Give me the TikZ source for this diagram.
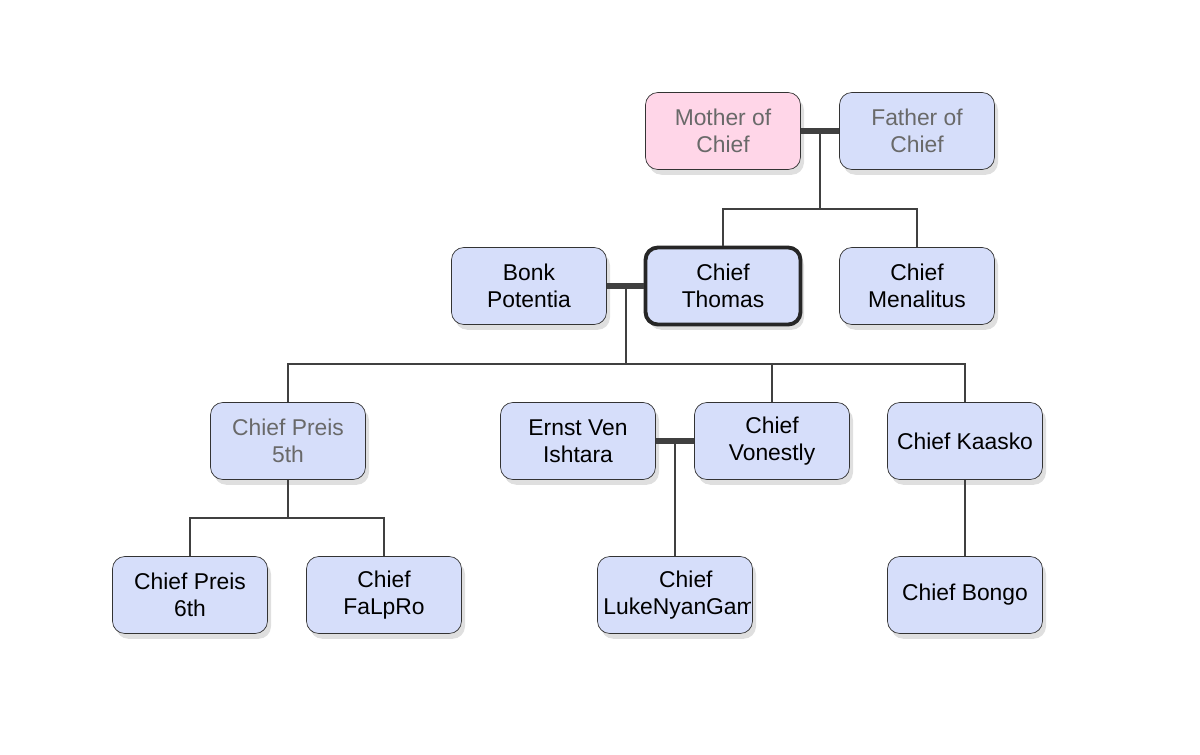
\documentclass[tikz,border=0pt]{standalone}
\usepackage{fontspec}
\setmainfont{Liberation Sans}
\usetikzlibrary{shadows,calc}
\definecolor{personblue}{RGB}{214,222,250}
\definecolor{personpink}{RGB}{255,214,232}
\definecolor{fadedtext}{RGB}{105,105,105}

\begin{document}
\begin{tikzpicture}[x=0.02cm,y=-0.02cm,
  person/.style={draw=black!80,fill=personblue,rounded corners=7pt,minimum width=3.1cm,minimum height=1.54cm,
    align=center,font=\fontsize{13}{15.5}\selectfont,drop shadow={opacity=0.25,shadow xshift=2pt,shadow yshift=-3pt}},
  faded/.style={text=fadedtext},
  couple/.style={line width=3.5pt,draw=black!75},
  line/.style={draw=black!75,line width=1.3pt}]

\useasboundingbox (0,0) rectangle (1200,754);

% Parents
\node[person,fill=personpink,faded] (mother) at (723,131) {Mother of\\Chief};
\node[person,faded] (father) at (917,131) {Father of\\Chief};

% Second generation
\node[person] (bonk) at (529,286) {Bonk\\Potentia};
\node[person,line width=2.2pt,draw=black!85] (thomas) at (723,286) {Chief\\Thomas};
\node[person] (menalitus) at (917,286) {Chief\\Menalitus};

% Third generation
\node[person,faded] (preis5) at (288,441) {Chief Preis\\5th};
\node[person] (ernst) at (578,441) {Ernst Ven\\Ishtara};
\node[person] (vonestly) at (772,441) {Chief\\Vonestly};
\node[person] (kaasko) at (965,441) {Chief Kaasko};

% Fourth generation
\node[person] (preis6) at (190,595) {Chief Preis\\6th};
\node[person] (falpro) at (384,595) {Chief\\FaLpRo};
\node[person] (luke) at (675,595) {};
\begin{scope}
  \clip ($(luke.south west)+(0,-2)$) rectangle ($(luke.north east)+(-2,2)$);
  \node[align=center,font=\fontsize{13}{15.5}\selectfont,anchor=west] (luketext) at ($(luke.west)+(0,0)$) {Chief\\LukeNyanGame};
\end{scope}
\node[person] (bongo) at (965,595) {Chief Bongo};

% Connectors
\coordinate (m1) at (820,131);
\coordinate (m2) at (626,286);
\coordinate (m3) at (675,441);

\draw[couple] (mother.east) -- (father.west);
\draw[line] (m1) -- (820,209) coordinate (j1);
\draw[line] (thomas.north) |- (j1) -| (menalitus.north);

\draw[couple] (bonk.east) -- (thomas.west);
\draw[line] (m2) -- (626,364) coordinate (j2);
\draw[line] (preis5.north) |- (j2) -| (kaasko.north);
\draw[line] (vonestly.north) -- (vonestly.north |- j2);

\draw[couple] (ernst.east) -- (vonestly.west);
\draw[line] (m3) -- (luke.north);

\draw[line] (preis5.south) -- (288,518) coordinate (j3);
\draw[line] (preis6.north) |- (j3) -| (falpro.north);

\draw[line] (kaasko.south) -- (bongo.north);

\end{tikzpicture}
\end{document}
